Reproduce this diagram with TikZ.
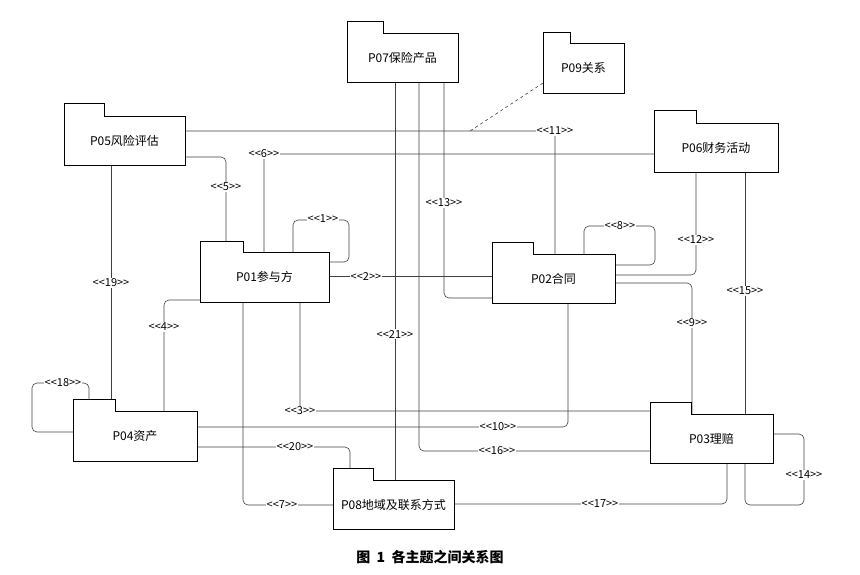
\documentclass[tikz,border=0pt]{standalone}
\usepackage{fontspec}
\setmainfont{Noto Sans CJK SC}
\begin{document}
\begin{tikzpicture}[x=1pt,y=-1pt,
 body/.style={inner sep=0pt,font=\fontsize{12}{14}\selectfont},
 ln/.style={draw=black!75,line width=0.6pt,rounded corners=5pt},
 lb/.style={fill=white,inner sep=1pt,font=\fontsize{11}{12}\selectfont}]
\useasboundingbox (0,0) rectangle (860,574);
\newcommand{\pk}[9]{% name, cx, cy, w, h, tabx1, tabx2, tabtop, text
 \draw[line width=0.7pt,fill=white] (#6,#3+#5/2) -- (#6,#8) -- (#7,#8) -- (#7,#3-#5/2) -- (#2+#4/2,#3-#5/2) -- (#2+#4/2,#3+#5/2) -- cycle;
 \node[body,minimum width=#4pt,minimum height=#5pt] (#1) at (#2,#3) {#9};}
% connectors first
\draw[ln] (185,131) -| (555,254);
\node[lb] (l11) at (555,131) {{<}{<}11{>}{>}};
\draw[ln,dashed,sharp corners] (543,83) -- (470,131);
\draw[ln] (654,154) -| (264,252);
\node[lb] (l6) at (264,154) {{<}{<}6{>}{>}};
\draw[ln] (185,157) -| (226,241);
\node[lb] (l5) at (226,187) {{<}{<}5{>}{>}};
\draw[ln] (293,252) |- (349,220) |- (329,262);
\node[lb] (l1) at (323,219) {{<}{<}1{>}{>}};
\draw[ln] (329,276) -- (492,276);
\node[lb] (l2) at (366,276) {{<}{<}2{>}{>}};
\draw[ln] (444,82) |- (492,298);
\node[lb] (l13) at (444,203) {{<}{<}13{>}{>}};
\draw[ln] (395,82) -- (395,480);
\node[lb] (l21) at (395,334) {{<}{<}21{>}{>}};
\draw[ln] (419,82) |- (650,451);
\node[lb] (l16) at (497,451) {{<}{<}16{>}{>}};
\draw[ln] (584,254) |- (655,226) |- (615,265);
\node[lb] (l8) at (620,226) {{<}{<}8{>}{>}};
\draw[ln] (696,172) |- (615,275);
\node[lb] (l12) at (696,240) {{<}{<}12{>}{>}};
\draw[ln] (745,172) -- (745,414);
\node[lb] (l15) at (745,291) {{<}{<}15{>}{>}};
\draw[ln] (615,283) -| (692,414);
\node[lb] (l9) at (692,323) {{<}{<}9{>}{>}};
\draw[ln] (300,302) |- (650,411);
\node[lb] (l3) at (300,411) {{<}{<}3{>}{>}};
\draw[ln] (197,427) -| (568,303);
\node[lb] (l10) at (498,427) {{<}{<}10{>}{>}};
\draw[ln] (197,447) -| (350,468);
\node[lb] (l20) at (295,447) {{<}{<}20{>}{>}};
\draw[ln] (243,302) |- (333,505);
\node[lb] (l7) at (282,505) {{<}{<}7{>}{>}};
\draw[ln] (727,463) |- (454,504);
\node[lb] (l17) at (600,504) {{<}{<}17{>}{>}};
\draw[ln] (773,434) -| (804,505) -| (745,463);
\node[lb] (l14) at (804,475) {{<}{<}14{>}{>}};
\draw[ln] (200,300) -| (164,411);
\node[lb] (l4) at (164,327) {{<}{<}4{>}{>}};
\draw[ln] (89,399) |- (32,383) |- (73,432);
\node[lb] (l18) at (63,383) {{<}{<}18{>}{>}};
\draw[ln] (111,165) -- (111,399);
\node[lb] (l19) at (111,283) {{<}{<}19{>}{>}};
% packages
\pk{P07}{402.5}{57.5}{111}{49}{347}{383}{21}{P07保险产品}
\pk{P09}{583.5}{68}{81}{50}{543}{570}{32}{P09关系}
\pk{P05}{124.5}{140.5}{121}{49}{64}{104}{103}{P05风险评估}
\pk{P06}{716}{147.5}{124}{49}{654}{696}{110}{P06财务活动}
\pk{P01}{264.5}{277}{129}{50}{200}{243}{241}{P01参与方}
\pk{P02}{553.5}{278.5}{123}{49}{492}{533}{242}{P02合同}
\pk{P04}{135}{436}{124}{50}{73}{115}{399}{P04资产}
\pk{P03}{711.5}{438.5}{123}{49}{650}{691}{402}{P03理赔}
\pk{P08}{393.5}{504.5}{121}{49}{333}{373}{468}{P08地域及联系方式}
\node[font=\bfseries\fontsize{14}{16}\selectfont] (cap) at (430,557) {图\ \ 1\ \ 各主题之间关系图};
\end{tikzpicture}
\end{document}
